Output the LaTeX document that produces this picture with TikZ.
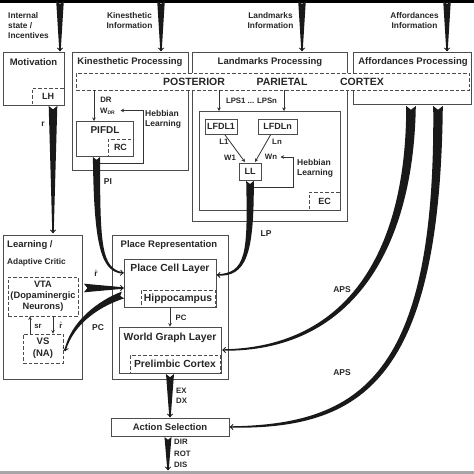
\documentclass[tikz,border=0pt]{standalone}
\usepackage{fontspec}
\setmainfont{Liberation Sans}
\usetikzlibrary{calc,arrows.meta}

\newcommand\taper[5]{%
  \fill[black!90] ($(#1)!#5!90:(#2)$)
    .. controls ($(#2)!{0.85*#5}!90:(#3)$) and ($(#3)!{0.5*#5}!90:(#4)$) ..
    ($(#4)!0.7pt!-90:(#3)$) -- ($(#4)!0.7pt!90:(#3)$)
    .. controls ($(#3)!{0.5*#5}!-90:(#4)$) and ($(#2)!{0.85*#5}!-90:(#3)$) ..
    ($(#1)!#5!-90:(#2)$) -- ($(#1)!{0.8*#5}!(#2)$) -- cycle;
  \draw[black!90,line width=0.8pt,-{Straight Barb[length=2.6pt,width=5.5pt]}] ($(#4)!1.2pt!(#3)$) -- (#4);
}
\newcommand\wedgearr[3]{%
  \coordinate (wA) at ($(#1)!0.33!(#2)$);
  \coordinate (wB) at ($(#1)!0.67!(#2)$);
  \fill[black!90] ($(#1)!#3!90:(#2)$) -- ($(#2)!0.7pt!-90:(#1)$) -- ($(#2)!0.7pt!90:(#1)$) -- ($(#1)!#3!-90:(#2)$) -- ($(#1)!{0.8*#3}!(#2)$) -- cycle;
  \draw[black!90,line width=0.8pt,-{Straight Barb[length=2.6pt,width=5.5pt]}] ($(#2)!1.2pt!(#1)$) -- (#2);}
\newcommand\bx[7]{\node[#6,minimum width={#4-#2},minimum height={#5-#3}] (#1) at ({(#2+#4)/2},{(#3+#5)/2}) {#7};}

\begin{document}
\begin{tikzpicture}[x=1pt,y=-1pt,
  every node/.style={text=black!85},
  box/.style={draw=black!70,line width=0.9pt,inner sep=0pt},
  dbox/.style={box,dash pattern=on 3.5pt off 2pt},
  ttl/.style={font=\fontsize{9.5}{11}\selectfont\bfseries,inner sep=0pt},
  big/.style={font=\fontsize{10.3}{12}\selectfont\bfseries,inner sep=0pt},
  inb/.style={font=\fontsize{9}{10.5}\selectfont\bfseries},
  lbl/.style={font=\fontsize{8.5}{10}\selectfont\bfseries,inner sep=0pt},
  sml/.style={font=\fontsize{7.8}{9.6}\selectfont\bfseries,inner sep=0pt},
  info/.style={font=\fontsize{8.3}{9.7}\selectfont\bfseries,inner sep=0pt,align=center},
  arr/.style={draw=black!80,line width=0.8pt,-{Stealth[length=3.5pt,width=3.5pt]}},
]
\useasboundingbox (0,0) rectangle (474,474);
\fill[black] (0,0) rectangle (474,3.2);
\fill[black!35] (0,470.5) rectangle (474,474);

% top texts
\node[info,align=left,anchor=west] (intT) at (8,25.5) {Internal\\state /\\Incentives};
\node[info] (kinI) at (129.5,20.5) {Kinesthetic\\Information};
\node[info] (lmkI) at (270.5,20.5) {Landmarks\\Information};
\node[info] (affI) at (414.5,20.5) {Affordances\\Information};

% outer boxes
\bx{mot}{3}{52}{64}{105}{box}{}
\node[ttl] (motT) at (33.5,62) {Motivation};
\bx{lh}{32}{88}{64}{105}{dbox,inb}{LH}
\bx{kin}{72}{52}{188}{170}{box}{}
\node[ttl] (kinT) at (130,62) {Kinesthetic Processing};
\bx{lmk}{192}{52}{347}{221}{box}{}
\node[ttl] (lmkT) at (270,62) {Landmarks Processing};
\bx{aff}{353}{52}{471}{104}{box}{}
\node[ttl] (affT) at (413,62) {Affordances Processing};

% posterior parietal cortex
\bx{ppc}{76}{73}{469}{90}{dbox,fill=white}{}
\node[font=\fontsize{10.5}{12}\selectfont\bfseries] (ppc1) at (194,81.5) {POSTERIOR};
\node[font=\fontsize{10.5}{12}\selectfont\bfseries] (ppc2) at (282,81.5) {PARIETAL};
\node[font=\fontsize{10.5}{12}\selectfont\bfseries] (ppc3) at (362,81.5) {CORTEX};

% top wedge arrows
\coordinate (t1s) at (60,1);  \coordinate (t1e) at (60,51);
\coordinate (t2s) at (161,1); \coordinate (t2e) at (161,51);
\coordinate (t3s) at (302,1); \coordinate (t3e) at (302,51);
\coordinate (t4s) at (447,1); \coordinate (t4e) at (447,51);
\wedgearr{t1s}{t1e}{3.8pt}
\wedgearr{t2s}{t2e}{3.8pt}
\wedgearr{t3s}{t3e}{3.8pt}
\wedgearr{t4s}{t4e}{3.8pt}

% kinesthetic interior
\bx{pifdl}{76}{121}{133}{156}{box}{}
\node[font=\fontsize{10}{12}\selectfont\bfseries] (pifdlT) at (105,130) {PIFDL};
\bx{rc}{108}{139}{133}{156}{dbox,inb}{RC}
\node[sml] (dr) at (106,100) {DR};
\node[sml,anchor=west] (wdr) at (100,111) {W\textsubscript{\fontsize{5}{5}\selectfont DR}};
\coordinate (kinIn) at (94,121);
\draw[arr] (kinIn |- ppc.south) -- (kinIn);
\coordinate (hk0) at (99,163);
\coordinate (hk1) at (143,163);
\coordinate (hk2) at (143,110.5);
\coordinate (hk3) at (120.5,110.5);
\draw[arr] (hk0) -- (hk1) -- (hk2) -- (hk3);
\node[lbl,align=left,anchor=west] (hebK) at (145,119) {Hebbian\\Learning};

% landmarks interior
\bx{lin}{199}{111}{340}{210}{box}{}
\bx{lf1}{205}{119}{237}{134}{box,inb}{LFDL1}
\bx{lfn}{258}{119}{297}{134}{box,inb}{LFDLn}
\bx{ll}{239}{163}{261}{180}{box,inb}{LL}
\node[sml] (lps) at (251.5,101) {LPS1 ... LPSn};
\coordinate (lpsA) at (219,111);
\coordinate (lpsB) at (284,111);
\draw[arr] (lpsA |- ppc.south) -- (lpsA);
\draw[arr] (lpsB |- ppc.south) -- (lpsB);
\draw[arr] ($(lf1.south)+(4,0.5)$) -- ($(ll.north)+(-5,-0.5)$);
\draw[arr] ($(lfn.south)+(-7,0.5)$) -- ($(ll.north)+(5,-0.5)$);
\node[sml] (l1) at (224,142) {L1};
\node[sml] (w1) at (230,157.5) {W1};
\node[sml] (lnl) at (277,142) {Ln};
\node[sml] (wn) at (271,157) {Wn};
\coordinate (hl0) at (254,187);
\coordinate (hl1) at (293,187);
\coordinate (hl2) at (293,157);
\coordinate (hl3) at (280.5,157);
\draw[arr] (hl0) -- (hl1) -- (hl2) -- (hl3);
\node[lbl,align=left,anchor=west] (hebL) at (297,168) {Hebbian\\Learning};
\bx{ec}{309}{192}{340}{210}{dbox,inb}{EC}

% learning / adaptive critic
\bx{lrn}{3}{235}{82}{379}{box}{}
\node[ttl,anchor=west] (lrnT) at (7,245) {Learning /};
\node[font=\fontsize{8.3}{10}\selectfont\bfseries,inner sep=0pt,anchor=west] (lrnT2) at (7,262) {Adaptive Critic};
\bx{vta}{8}{277}{78}{316}{dbox,font=\fontsize{9.3}{10.8}\selectfont\bfseries,align=center}{VTA\\(Dopaminergic\\Neurons)}
\bx{vs}{23}{334}{63}{363}{dbox,font=\fontsize{9.5}{12}\selectfont\bfseries,align=center}{VS\\(NA)}
\draw[arr] (vs.north -| 30,0) -- (vta.south -| 30,0);
\draw[arr] (vta.south -| 53,0) -- (vs.north -| 53,0);
\node[sml] (sr) at (38,326.5) {sr};
\node[sml] (rh1) at (61,325) {$\hat{\mathbf{r}}$};

% place representation
\bx{prep}{112}{235}{228}{379}{box}{}
\node[ttl] (prepT) at (169,245) {Place Representation};
\bx{pcl}{124}{259}{216}{307}{box}{}
\node[big] (pclT) at (170,269) {Place Cell Layer};
\bx{hip}{141}{290}{215}{307}{dbox,big}{Hippocampus}
\bx{wgl}{119}{327}{221}{373}{box}{}
\node[big] (wglT) at (170,338) {World Graph Layer};
\bx{plc}{130}{355}{220}{373}{dbox,big}{Prelimbic Cortex}
\draw[arr] (hip.south -| 170,0) -- (wgl.north -| 170,0);
\node[sml] (pc2) at (181,318) {PC};

% action selection
\bx{act}{111}{418}{229}{436}{box,ttl}{Action Selection}

% motivation -> learning wedge
\coordinate (rS) at (53,106); \coordinate (rE) at (53,233);
\wedgearr{rS}{rE}{4.3pt}
\node[lbl] (rl) at (43,124) {r};

% r-hat wedge to place cells
\coordinate (rhS) at (84,288); \coordinate (rhE) at (123.5,288);
\wedgearr{rhS}{rhE}{4.3pt}
\node[lbl] (rh2) at (96,273) {$\hat{\mathbf{r}}$};

% EX DX and DIR ROT DIS wedges
\coordinate (exS) at (170,374); \coordinate (exE) at (170,417);
\wedgearr{exS}{exE}{4pt}
\node[sml,anchor=west] (ex) at (176,391) {EX};
\node[sml,anchor=west] (dx) at (176,401) {DX};
\coordinate (dS) at (168,437); \coordinate (dE) at (168,470);
\wedgearr{dS}{dE}{3.5pt}
\node[sml,anchor=west] (dir) at (174,442) {DIR};
\node[sml,anchor=west] (rot) at (174,453.5) {ROT};
\node[sml,anchor=west] (dis) at (174,465) {DIS};

% PI curve
\coordinate (piS) at (96.5,157); \coordinate (piA) at (97,245);
\coordinate (piB) at (101,271); \coordinate (piE) at (123.5,273);
\taper{piS}{piA}{piB}{piE}{3.6pt}
\node[lbl] (pil) at (108,182) {PI};

% LP curve
\coordinate (lpS) at (250,181); \coordinate (lpA) at (251,255);
\coordinate (lpB) at (246,275); \coordinate (lpE) at (217,275);
\taper{lpS}{lpA}{lpB}{lpE}{3.8pt}
\node[lbl] (lpl) at (266,234) {LP};

% PC curve to VS
\coordinate (pcS) at (123,295); \coordinate (pcA) at (100,303);
\coordinate (pcB) at (72,322); \coordinate (pcE) at (65,351);
\taper{pcS}{pcA}{pcB}{pcE}{3.6pt}
\node[lbl] (pc1) at (98,328) {PC};

% APS curves
\coordinate (a1S) at (411,106); \coordinate (a1A) at (410,250);
\coordinate (a1B) at (350,350); \coordinate (a1E) at (222.5,350);
\taper{a1S}{a1A}{a1B}{a1E}{4.8pt}
\node[lbl] (aps1) at (342,290) {APS};
\coordinate (a2S) at (438,106); \coordinate (a2A) at (438,380);
\coordinate (a2B) at (360,427); \coordinate (a2E) at (230,427);
\taper{a2S}{a2A}{a2B}{a2E}{4.8pt}
\node[lbl] (aps2) at (342,373) {APS};
\end{tikzpicture}
\end{document}
